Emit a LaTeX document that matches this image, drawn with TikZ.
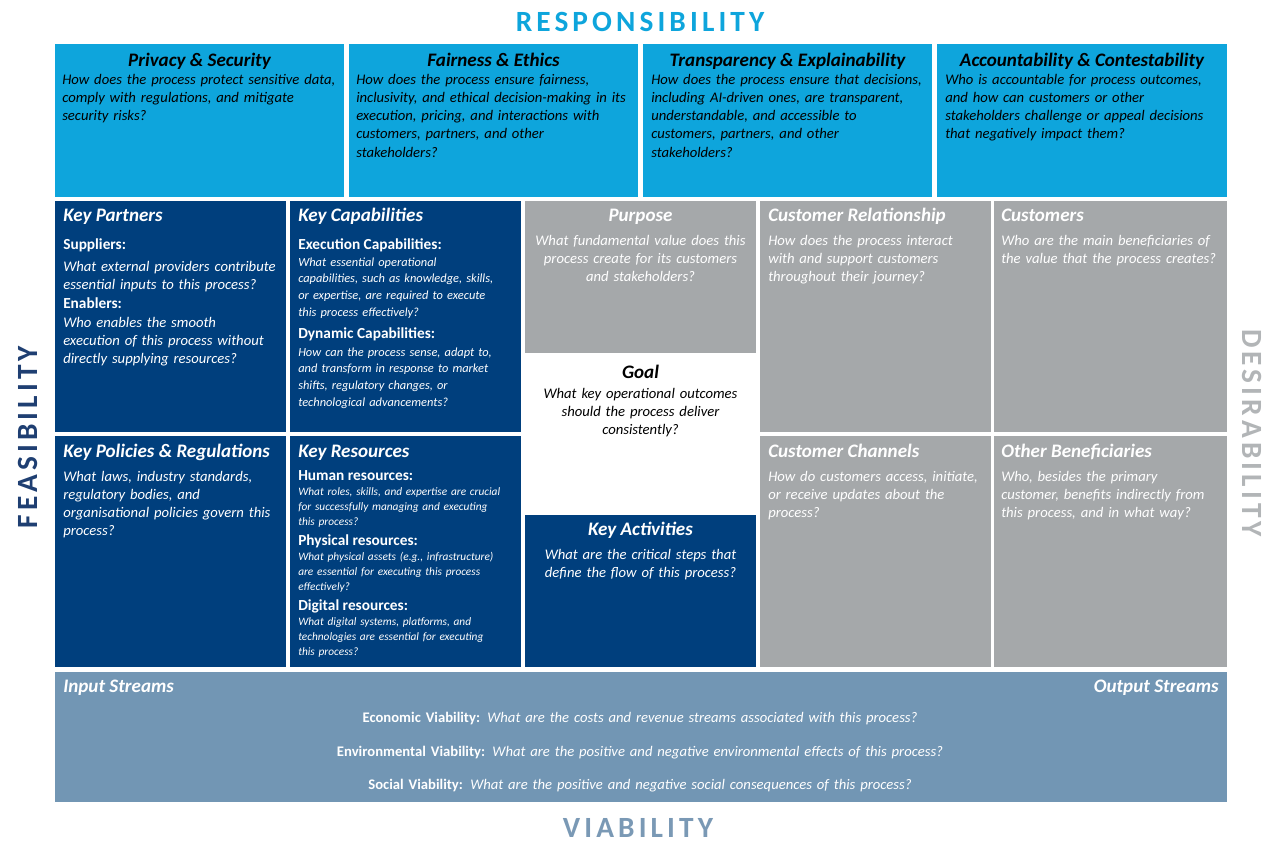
\documentclass[tikz,border=0pt]{standalone}
\usepackage{fontspec}
\setmainfont{Carlito}
\newfontfamily\headfont[LetterSpace=14]{Carlito}
\usepackage{xcolor}
\definecolor{respblue}{HTML}{0EA5DC}
\definecolor{feasnavy}{HTML}{003F7D}
\definecolor{desgray}{HTML}{A5A8AA}
\definecolor{viaslate}{HTML}{7296B4}
\definecolor{feashead}{HTML}{1F3F72}
\definecolor{deshead}{HTML}{B2B5B7}
\definecolor{viahead}{HTML}{7A99B5}

\begin{document}
\begin{tikzpicture}[x=0.75pt,y=-0.75pt,
  cell/.style 2 args={anchor=north west,inner sep=0pt,outer sep=0pt,minimum width={#1*0.75pt},minimum height={#2*0.75pt}},
  head/.style={font=\headfont\bfseries\fontsize{22}{26}\selectfont,inner sep=0pt},
  title/.style={font=\fontsize{14.3}{17}\selectfont\bfseries\itshape,inner sep=0pt,anchor=base},
  ltitle/.style={title,anchor=base west},
  body/.style={font=\fontsize{11}{13.7}\selectfont\itshape,inner sep=0pt,align=left,anchor=base west,text width={222*0.75pt}},
  wbody/.style={body,text width={280*0.75pt}},
  cbody/.style={body,align=center,anchor=base},
  sub/.style={font=\fontsize{11.5}{14}\selectfont\bfseries,inner sep=0pt,anchor=base west},
  small/.style={body,font=\fontsize{9.3}{12.5}\selectfont\itshape},
  tiny/.style={body,font=\fontsize{8.5}{11.25}\selectfont\itshape}]
\useasboundingbox (0,0) rectangle (1280,858);

\node[head,text=respblue] (resp) at (640,22) {RESPONSIBILITY};
\node[head,text=feashead,rotate=90] (feas) at (28,437) {FEASIBILITY};
\node[head,text=deshead,rotate=-90] (des) at (1252,433) {DESIRABILITY};
\node[head,text=viahead] (via) at (638,828) {VIABILITY};

\node[cell={289}{153},fill=respblue] (privacy) at (55,44) {};
\node[cell={289}{153},fill=respblue] (fairness) at (349,44) {};
\node[cell={289}{153},fill=respblue] (transp) at (643,44) {};
\node[cell={290}{153},fill=respblue] (account) at (937,44) {};

\node[cell={231}{231},fill=feasnavy] (partners) at (55,201) {};
\node[cell={231}{231},fill=feasnavy] (capab) at (290,201) {};
\node[cell={231}{152},fill=desgray] (purpose) at (525,201) {};
\node[cell={231}{231},fill=desgray] (custrel) at (760,201) {};
\node[cell={233}{231},fill=desgray] (customers) at (994,201) {};

\node[cell={231}{231},fill=feasnavy] (policies) at (55,436) {};
\node[cell={231}{231},fill=feasnavy] (resources) at (290,436) {};
\node[cell={231}{152},fill=feasnavy] (activities) at (525,515) {};
\node[cell={231}{231},fill=desgray] (channels) at (760,436) {};
\node[cell={233}{231},fill=desgray] (others) at (994,436) {};

\node[cell={1172}{130},fill=viaslate] (streams) at (55,672) {};

\node[title] (privacyT) at (199.5,66) {Privacy \& Security};
\node[wbody] (privacyB) at (62,84) {How does the process protect sensitive data,\\comply with regulations, and mitigate\\security risks?};
\node[title] (fairnessT) at (493.5,66) {Fairness \& Ethics};
\node[wbody] (fairnessB) at (356,84) {How does the process ensure fairness,\\inclusivity, and ethical decision-making in its\\execution, pricing, and interactions with\\customers, partners, and other\\stakeholders?};
\node[title] (transpT) at (787.5,66) {Transparency \& Explainability};
\node[wbody] (transpB) at (651,84) {How does the process ensure that decisions,\\including AI-driven ones, are transparent,\\understandable, and accessible to\\customers, partners, and other\\stakeholders?};
\node[title] (accountT) at (1082,66) {Accountability \& Contestability};
\node[wbody] (accountB) at (945,84) {Who is accountable for process outcomes,\\and how can customers or other\\stakeholders challenge or appeal decisions\\that negatively impact them?};

\node[ltitle,text=white] (partnersT) at (63,221) {Key Partners};
\node[sub,text=white] (suppliersS) at (63,249) {Suppliers:};
\node[body,text=white] (suppliersB) at (63,271) {What external providers contribute\\essential inputs to this process?};
\node[sub,text=white] (enablersS) at (63,308) {Enablers:};
\node[body,text=white] (enablersB) at (63,327) {Who enables the smooth\\execution of this process without\\directly supplying resources?};

\node[ltitle,text=white] (capabT) at (298,221) {Key Capabilities};
\node[sub,text=white] (execS) at (298,249) {Execution Capabilities:};
\node[small,text=white] (execB) at (298,266) {What essential operational\\capabilities, such as knowledge, skills,\\or expertise, are required to execute\\this process effectively?};
\node[sub,text=white] (dynS) at (298,338) {Dynamic Capabilities:};
\node[small,text=white] (dynB) at (298,356) {How can the process sense, adapt to,\\and transform in response to market\\shifts, regulatory changes, or\\technological advancements?};

\node[title,text=white] (purposeT) at (640.5,221) {Purpose};
\node[cbody,text=white] (purposeB) at (640.5,245) {What fundamental value does this\\process create for its customers\\and stakeholders?};
\node[title] (goalT) at (640.5,378) {Goal};
\node[cbody] (goalB) at (640.5,398) {What key operational outcomes\\should the process deliver\\consistently?};

\node[ltitle,text=white] (custrelT) at (768,221) {Customer Relationship};
\node[body,text=white] (custrelB) at (768,245) {How does the process interact\\with and support customers\\throughout their journey?};
\node[ltitle,text=white] (customersT) at (1001,221) {Customers};
\node[body,text=white] (customersB) at (1001,245) {Who are the main beneficiaries of\\the value that the process creates?};

\node[ltitle,text=white] (policiesT) at (63,457) {Key Policies \& Regulations};
\node[body,text=white] (policiesB) at (63,481) {What laws, industry standards,\\regulatory bodies, and\\organisational policies govern this\\process?};

\node[ltitle,text=white] (resourcesT) at (298,457) {Key Resources};
\node[sub,text=white] (humanS) at (298,480) {Human resources:};
\node[tiny,text=white] (humanB) at (298,495) {What roles, skills, and expertise are crucial\\for successfully managing and executing\\this process?};
\node[sub,text=white] (physS) at (298,545) {Physical resources:};
\node[tiny,text=white] (physB) at (298,560) {What physical assets (e.g., infrastructure)\\are essential for executing this process\\effectively?};
\node[sub,text=white] (digS) at (298,610) {Digital resources:};
\node[tiny,text=white] (digB) at (298,625) {What digital systems, platforms, and\\technologies are essential for executing\\this process?};

\node[title,text=white] (activitiesT) at (640.5,535) {Key Activities};
\node[cbody,text=white] (activitiesB) at (640.5,559) {What are the critical steps that\\define the flow of this process?};

\node[ltitle,text=white] (channelsT) at (768,457) {Customer Channels};
\node[body,text=white] (channelsB) at (768,481) {How do customers access, initiate,\\or receive updates about the\\process?};
\node[ltitle,text=white] (othersT) at (1001,457) {Other Beneficiaries};
\node[body,text=white] (othersB) at (1001,481) {Who, besides the primary\\customer, benefits indirectly from\\this process, and in what way?};

\node[ltitle,text=white] (inputT) at (63,692) {Input Streams};
\node[title,text=white,anchor=base east] (outputT) at (1219,692) {Output Streams};
\node[cbody,text=white,text width={1100*0.75pt}] (econB) at (640,722) {\textbf{\upshape Economic Viability:} What are the costs and revenue streams associated with this process?};
\node[cbody,text=white,text width={1100*0.75pt}] (envB) at (640,756) {\textbf{\upshape Environmental Viability:} What are the positive and negative environmental effects of this process?};
\node[cbody,text=white,text width={1100*0.75pt}] (socB) at (640,789) {\textbf{\upshape Social Viability:} What are the positive and negative social consequences of this process?};
\end{tikzpicture}
\end{document}
